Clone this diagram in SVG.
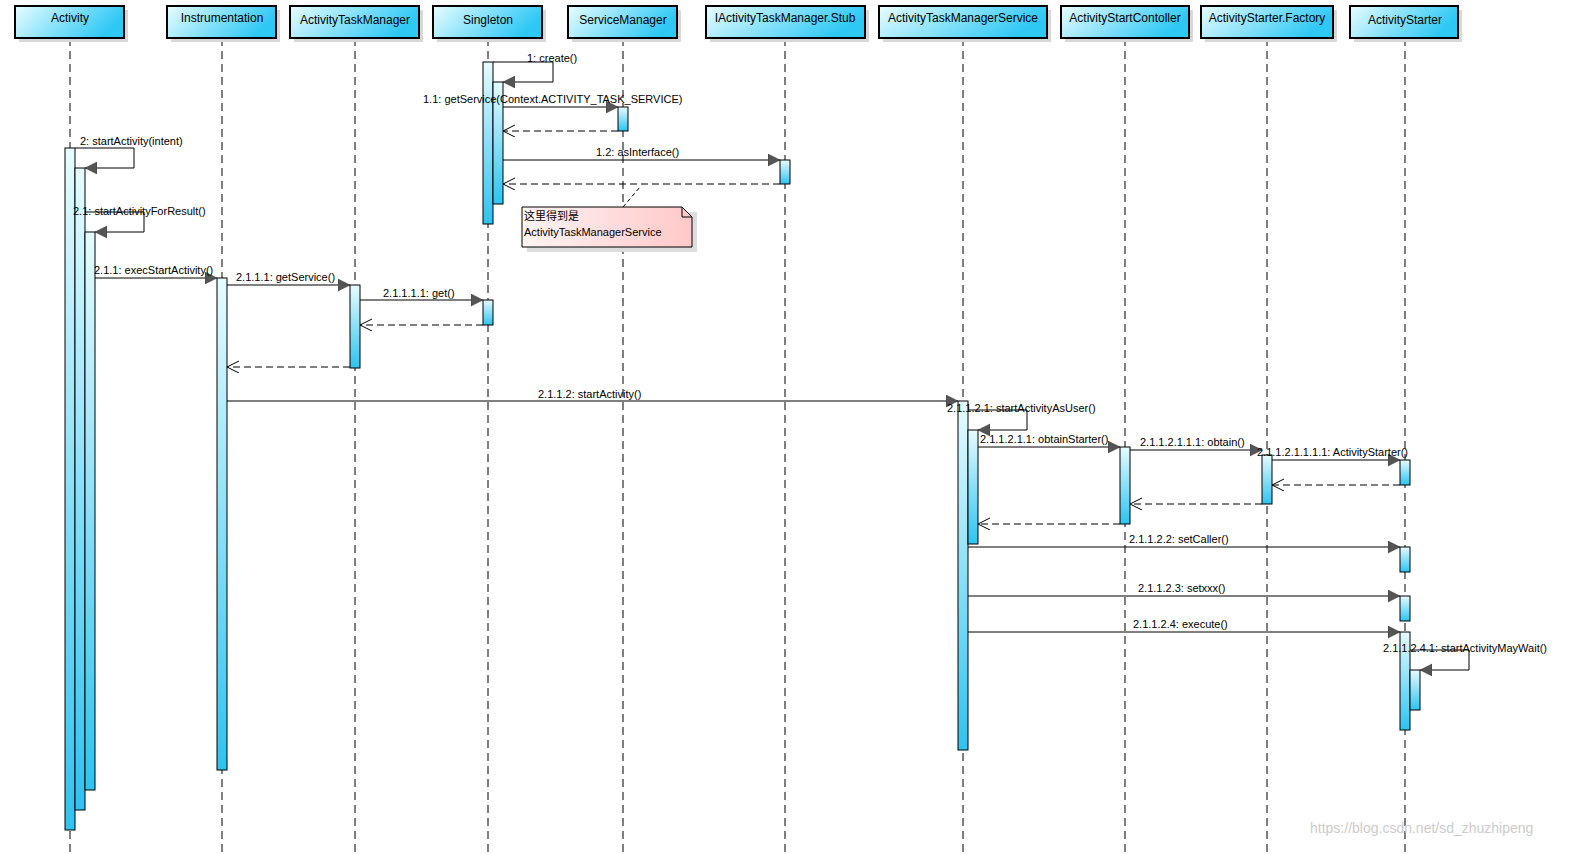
<svg xmlns="http://www.w3.org/2000/svg" width="1582" height="854" viewBox="0 0 1582 854">
<defs>
<linearGradient id="hg" x1="0" y1="0" x2="1" y2="0.3"><stop offset="0" stop-color="#e8fdff"/><stop offset="1" stop-color="#2ec8f5"/></linearGradient>
<linearGradient id="ag" x1="0" y1="0" x2="0" y2="1"><stop offset="0" stop-color="#e6fcff"/><stop offset="1" stop-color="#2ec3f0"/></linearGradient>
<linearGradient id="ng" x1="0" y1="0" x2="1" y2="0"><stop offset="0" stop-color="#fff4f4"/><stop offset="1" stop-color="#ffc8c8"/></linearGradient>
<marker id="f" markerWidth="14" markerHeight="14" refX="12" refY="6" orient="auto" markerUnits="userSpaceOnUse"><path d="M0,0 L12,6 L0,12 Z" fill="#555" stroke="#333" stroke-width="0.5"/></marker>
<marker id="o" markerWidth="14" markerHeight="14" refX="12" refY="6" orient="auto" markerUnits="userSpaceOnUse"><path d="M0,0 L12,6 L0,12" fill="none" stroke="#000"/></marker>
</defs>
<style>
text{font-family:"Liberation Sans",Arial,sans-serif;font-size:11px;fill:#000}
.hd rect.b{fill:url(#hg);stroke:#000;stroke-width:2}
.hd rect.s{fill:#d8d8d8}
.hd text{text-anchor:middle;font-size:12px}
.ll{stroke:#000;stroke-dasharray:8,5;fill:none}
.act{fill:url(#ag);stroke:#000;stroke-width:1}
.m{stroke:#000;fill:none;marker-end:url(#f)}
.r{stroke:#000;fill:none;stroke-dasharray:7,4;marker-end:url(#o)}
</style>
<rect width="1582" height="854" fill="#fff"/>
<g id="lifelines">
<path class="ll" d="M70,38V854M222,38V854M355,38V854M488,38V854M623,38V854M785,38V854M963,38V854M1125,38V854M1267,38V854M1405,38V854"/>
</g>
<g class="hd">
<g id="n-activity"><rect class="s" x="19" y="10" width="109" height="32"/><rect class="b" x="15" y="6" width="109" height="32"/><text x="70" y="22">Activity</text></g>
<g id="n-instr"><rect class="s" x="171" y="10" width="109" height="32"/><rect class="b" x="167" y="6" width="109" height="32"/><text x="222" y="22">Instrumentation</text></g>
<g id="n-atm"><rect class="s" x="294" y="10" width="129" height="32"/><rect class="b" x="290" y="6" width="129" height="32"/><text x="355" y="24">ActivityTaskManager</text></g>
<g id="n-singleton"><rect class="s" x="437" y="10" width="109" height="32"/><rect class="b" x="433" y="6" width="109" height="32"/><text x="488" y="24">Singleton</text></g>
<g id="n-sm"><rect class="s" x="572" y="10" width="109" height="32"/><rect class="b" x="568" y="6" width="109" height="32"/><text x="623" y="24">ServiceManager</text></g>
<g id="n-stub"><rect class="s" x="710" y="10" width="159" height="32"/><rect class="b" x="706" y="6" width="159" height="32"/><text x="785" y="22">IActivityTaskManager.Stub</text></g>
<g id="n-atms"><rect class="s" x="883" y="10" width="168" height="32"/><rect class="b" x="879" y="6" width="168" height="32"/><text x="963" y="22">ActivityTaskManagerService</text></g>
<g id="n-asc"><rect class="s" x="1065" y="10" width="128" height="32"/><rect class="b" x="1061" y="6" width="128" height="32"/><text x="1125" y="22">ActivityStartContoller</text></g>
<g id="n-asf"><rect class="s" x="1205" y="10" width="132" height="32"/><rect class="b" x="1201" y="6" width="132" height="32"/><text x="1267" y="22">ActivityStarter.Factory</text></g>
<g id="n-as"><rect class="s" x="1354" y="10" width="108" height="32"/><rect class="b" x="1350" y="6" width="108" height="32"/><text x="1405" y="24">ActivityStarter</text></g>
</g>
<g id="activations">
<rect class="act" x="65" y="148" width="10" height="682"/>
<rect class="act" x="75" y="168" width="10" height="642"/>
<rect class="act" x="85" y="232" width="10" height="558"/>
<rect class="act" x="217" y="278" width="10" height="492"/>
<rect class="act" x="350" y="285" width="10" height="83"/>
<rect class="act" x="483" y="62" width="10" height="162"/>
<rect class="act" x="493" y="82" width="10" height="122"/>
<rect class="act" x="483" y="300" width="10" height="25"/>
<rect class="act" x="618" y="107" width="10" height="24"/>
<rect class="act" x="780" y="160" width="10" height="24"/>
<rect class="act" x="958" y="401" width="10" height="349"/>
<rect class="act" x="968" y="430" width="10" height="114"/>
<rect class="act" x="1120" y="447" width="10" height="77"/>
<rect class="act" x="1262" y="455" width="10" height="49"/>
<rect class="act" x="1400" y="460" width="10" height="25"/>
<rect class="act" x="1400" y="547" width="10" height="25"/>
<rect class="act" x="1400" y="596" width="10" height="25"/>
<rect class="act" x="1400" y="632" width="10" height="98"/>
<rect class="act" x="1410" y="670" width="10" height="40"/>
</g>
<g id="connectors">
<path class="m" d="M493,62H553V82H503"/>
<path class="m" d="M503,107H618"/>
<path class="r" d="M618,131H503"/>
<path class="m" d="M503,160H780"/>
<path class="r" d="M780,184H503"/>
<path class="m" d="M75,148H134V168H85"/>
<path class="m" d="M85,212H144V232H95"/>
<path class="m" d="M95,278H217"/>
<path class="m" d="M227,285H350"/>
<path class="m" d="M360,300H483"/>
<path class="r" d="M483,325H360"/>
<path class="r" d="M350,367H227"/>
<path class="m" d="M227,401H958"/>
<path class="m" d="M968,410H1027V430H978"/>
<path class="m" d="M978,447H1120"/>
<path class="m" d="M1130,450H1262"/>
<path class="m" d="M1272,460H1400"/>
<path class="r" d="M1400,485H1272"/>
<path class="r" d="M1262,504H1130"/>
<path class="r" d="M1120,524H978"/>
<path class="m" d="M968,547H1400"/>
<path class="m" d="M968,596H1400"/>
<path class="m" d="M968,632H1400"/>
<path class="m" d="M1410,650H1469V670H1420"/>
<path d="M623,207L640,187" stroke="#000" stroke-dasharray="4,3" fill="none"/>
</g>
<g id="labels">
<text x="527" y="62">1: create()</text>
<text x="423" y="103">1.1: getService(Context.ACTIVITY_TASK_SERVICE)</text>
<text x="596" y="156">1.2: asInterface()</text>
<text x="80" y="145">2: startActivity(intent)</text>
<text x="73" y="215">2.1: startActivityForResult()</text>
<text x="94" y="274">2.1.1: execStartActivity()</text>
<text x="236" y="281">2.1.1.1: getService()</text>
<text x="383" y="297">2.1.1.1.1: get()</text>
<text x="538" y="398">2.1.1.2: startActivity()</text>
<text x="947" y="412">2.1.1.2.1: startActivityAsUser()</text>
<text x="980" y="443">2.1.1.2.1.1: obtainStarter()</text>
<text x="1140" y="446">2.1.1.2.1.1.1: obtain()</text>
<text x="1257" y="456">2.1.1.2.1.1.1.1: ActivityStarter()</text>
<text x="1129" y="543">2.1.1.2.2: setCaller()</text>
<text x="1138" y="592">2.1.1.2.3: setxxx()</text>
<text x="1133" y="628">2.1.1.2.4: execute()</text>
<text x="1383" y="652">2.1.1.2.4.1: startActivityMayWait()</text>
</g>
<g id="note">
<path d="M527,212H697V252H527Z" fill="#ddd"/>
<path d="M522,207H682L692,217V247H522Z" fill="url(#ng)" stroke="#000"/>
<path d="M682,207V217H692" fill="none" stroke="#000"/>
<text x="524" y="220" style="font-family:'Liberation Sans','Noto Sans CJK SC',sans-serif">这里得到是</text>
<text x="524" y="236">ActivityTaskManagerService</text>
</g>
<text x="1310" y="833" style="font-size:14px;fill:#ccc">https://blog.csdn.net/sd_zhuzhipeng</text>
</svg>
